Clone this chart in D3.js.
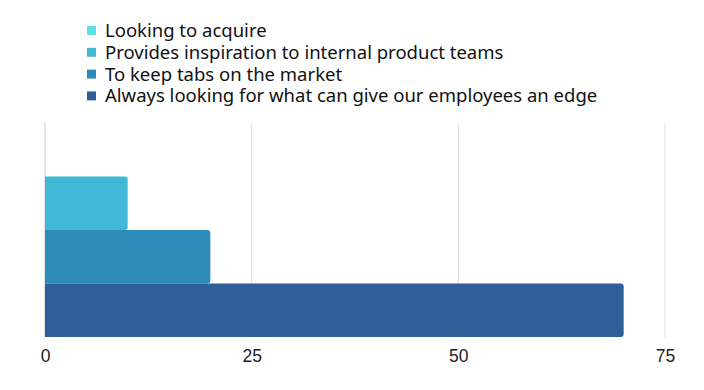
<!DOCTYPE html>
<html>
<head>
<script src="https://d3js.org/d3.v7.min.js"></script>
<style>
  body { margin: 0; background: #fff; }
</style>
</head>
<body>
<svg id="chart" width="704" height="390"></svg>
<script>
var categories = ["Looking to acquire", "Provides inspiration to internal product teams", "To keep tabs on the market", "Always looking for what can give our employees an edge"];
var values = [0, 10, 20, 70];
var colors = ["#5ce1e6", "#41b8d5", "#2d8bba", "#2f5f98"];
var tickValues = [0, 25, 50, 75];

var svg = d3.select("#chart");
var margin = {left: 45, right: 39, top: 123, bottom: 53};
var width = 704 - margin.left - margin.right,
    height = 390 - margin.top - margin.bottom;

var x = d3.scaleLinear().domain([0, 75]).range([0, width]);
var y = d3.scaleBand().domain(categories).range([0, height]).padding(0);

var g = svg.append("g").attr("transform", "translate(" + margin.left + "," + margin.top + ")");

// grid lines
g.selectAll(".grid")
  .data(tickValues)
  .enter().append("line")
    .attr("x1", function(d) { return x(d); })
    .attr("x2", function(d) { return x(d); })
    .attr("y1", 0)
    .attr("y2", height)
    .attr("stroke", function(d) { return d === 0 ? "#c8c8c8" : "#dddddd"; })
    .attr("stroke-width", 1);

// bars, right corners rounded
var r = 3;
g.selectAll(".bar")
  .data(categories)
  .enter().append("path")
    .attr("fill", function(d, i) { return colors[i]; })
    .attr("d", function(d, i) {
      var w = x(values[i]) - x(0);
      if (w <= 0) return "";
      var y0 = y(d), h = y.bandwidth(), x0 = x(0);
      var rr = Math.min(r, w);
      return "M" + x0 + "," + y0 +
        "H" + (x0 + w - rr) +
        "Q" + (x0 + w) + "," + y0 + " " + (x0 + w) + "," + (y0 + rr) +
        "V" + (y0 + h - rr) +
        "Q" + (x0 + w) + "," + (y0 + h) + " " + (x0 + w - rr) + "," + (y0 + h) +
        "H" + x0 + "Z";
    });

// x axis labels
var xAxis = d3.axisBottom(x).tickValues(tickValues).tickSize(0).tickPadding(13);
var ax = g.append("g").attr("transform", "translate(0," + height + ")").call(xAxis);
ax.select(".domain").remove();
ax.selectAll("text")
  .attr("font-family", "Liberation Sans, Arial, sans-serif")
  .attr("font-size", 17.5)
  .attr("fill", "#222");

// legend
var legend = svg.append("g").attr("transform", "translate(87,22)");
var item = legend.selectAll(".item")
  .data(categories)
  .enter().append("g")
    .attr("transform", function(d, i) { return "translate(0," + (i * 21.8) + ")"; });
item.append("rect")
  .attr("x", 0).attr("y", 4)
  .attr("width", 9).attr("height", 9)
  .attr("fill", function(d, i) { return colors[i]; });
item.append("text")
  .attr("x", 18).attr("y", 15)
  .attr("font-family", "Noto Sans, sans-serif")
  .attr("font-size", 18.5)
  .attr("fill", "#111")
  .text(function(d) { return d; });
</script>
</body>
</html>
